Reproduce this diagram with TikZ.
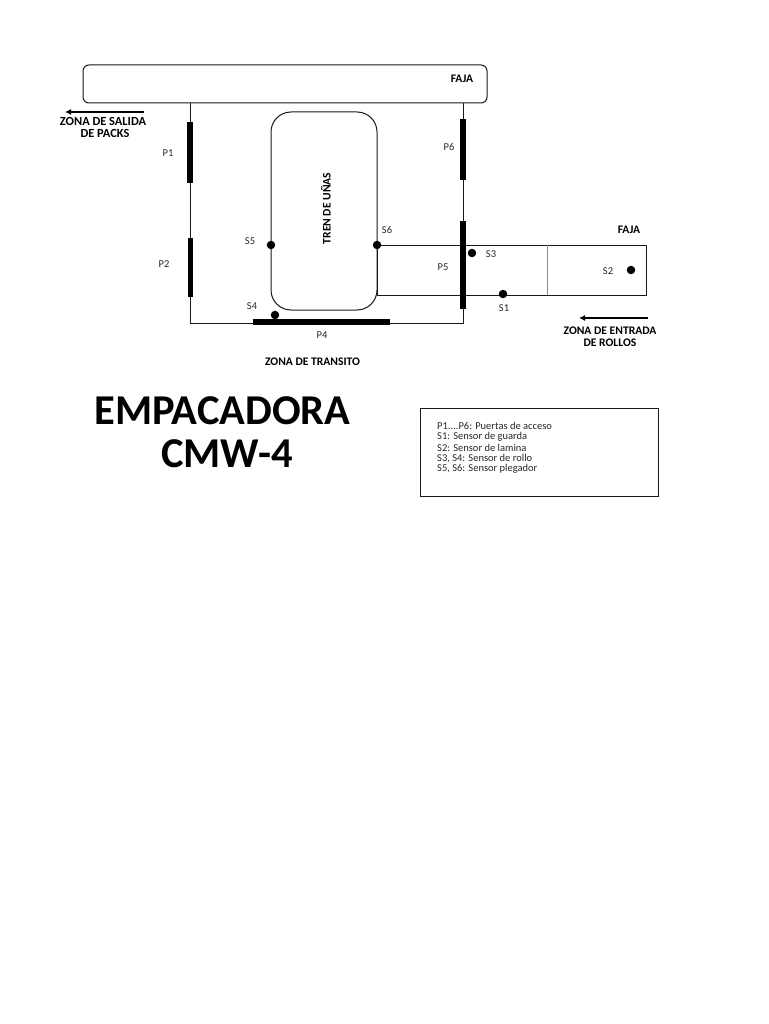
\documentclass[tikz,border=0pt]{standalone}
\usepackage{fontspec}
\setmainfont{Carlito}
\usetikzlibrary{arrows.meta,positioning}
\tikzset{
  wall/.style={draw=black!90, line width=1pt},
  door/.style={line width=5.5pt, black},
  sensor/.style={circle, fill=black, inner sep=0pt, minimum size=8.5pt},
  tag/.style={font=\fontsize{10.5}{12}\selectfont, text=black!85, inner sep=0pt},
  head/.style={font=\fontsize{11.6}{12}\selectfont\bfseries, inner sep=0pt, align=center},
  flow/.style={-{Latex[length=6pt,width=6pt]}, line width=2pt},
  big/.style={font=\fontsize{42.5}{43}\selectfont\bfseries, inner sep=0pt},
}
\begin{document}
\begin{tikzpicture}[x=1pt,y=-1pt]
  \useasboundingbox (0,0) rectangle (768,1024);
 %frame
  \coordinate (tl) at (190,103);
  \coordinate (bl) at (190,323);
  \coordinate (br) at (463,323);
  \coordinate (tr) at (463,103);
  \draw[wall] (tl) -- (bl) -- (br) -- (tr);
 %top belt
  \draw[wall, rounded corners=6pt] (83,65) rectangle (487,103);
  \node[head] (faja1) at (462,79) {FAJA};
 %claw train
  \draw[wall, rounded corners=20pt] (271,112) rectangle (377,310);
  \node[head, rotate=90] (tren) at (326,208.5) {TREN DE UÑAS};
 %right belt
  \draw[wall] (377,245) rectangle (646,295);
  \draw[draw=black!45, line width=0.7pt] (547,245) -- (547,295);
  \node[head] (faja2) at (629,230) {FAJA};
 %doors
  \foreach \name/\xa/\ya/\xb/\yb in {d1/190/122/190/183, d2/190.5/238/190.5/297, d6/463/119/463/180, d5/463/221/463/309, d4/253/322/390/322} {
     \draw[door] (\xa,\ya) -- (\xb,\yb);
  }
  \foreach \name/\tx/\x/\y in {P1/P1/168/153, P2/P2/164/264, P4/P4/322/335, P5/P5/443/267, P6/P6/449/147} {
     \node[tag] (\name) at (\x,\y) {\tx};
  }
 %sensors
  \foreach \name/\x/\y in {s1/503/294, s2/631/270, s3/472/253, s4/275/315, s5/271/245, s6/377/245} {
     \node[sensor] (\name) at (\x,\y) {};
  }
  \foreach \name/\tx/\x/\y in {S1/S1/504/308, S2/S2/608/271, S3/S3/491/254, S4/S4/252/306, S5/S5/250/241, S6/S6/387/230} {
     \node[tag] (\name) at (\x,\y) {\tx};
  }
 %exits
  \coordinate (outa) at (144,112);
  \coordinate (outb) at (65,112);
  \draw[flow] (outa) -- (outb);
  \node[head, font=\fontsize{12.4}{12}\selectfont\bfseries] (salida) at (103,127.5) {ZONA DE SALIDA\\\hspace{4pt}DE PACKS};
  \coordinate (ina) at (648,318);
  \coordinate (inb) at (579,318);
  \draw[flow] (ina) -- (inb);
  \node[head] (entrada) at (610,337) {ZONA DE ENTRADA\\DE ROLLOS};
  \node[head] (transito) at (312.5,362) {ZONA DE TRANSITO};
 %title
  \node[big] (title) at (222.5,411) {EMPACADORA};
  \node[big] (model) at (227,453.5) {CMW-4};
 %legend
  \draw[wall] (420.5,408) rectangle (658.5,496);
  \node[tag, anchor=west] (l1) at (437,426) {P1....P6: Puertas de acceso};
  \foreach \name/\tx/\y in {l2/S1: Sensor de guarda/437, l3/S2: Sensor de lamina/447.5, l4/{S3, S4: Sensor de rollo}/458.5, l5/{S5, S6: Sensor plegador}/468.5} {
     \node[tag, anchor=west] (\name) at (437,\y) {\tx};
  }
\end{tikzpicture}
\end{document}
